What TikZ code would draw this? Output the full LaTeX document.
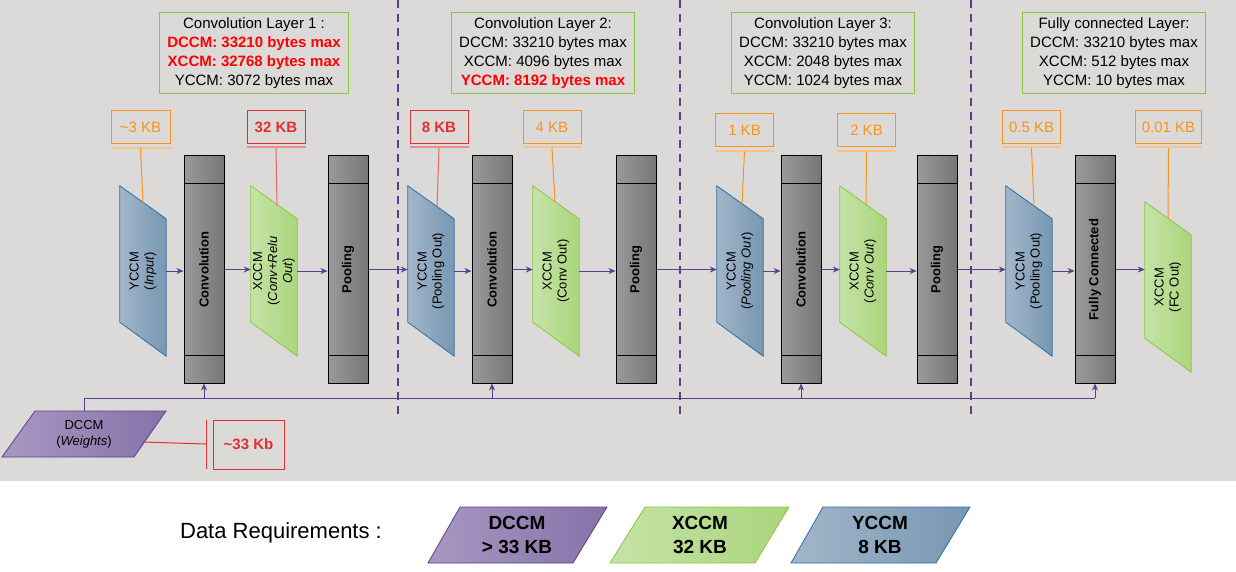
\documentclass[tikz,border=0pt]{standalone}
\usepackage{fontspec}
\setmainfont{Liberation Sans}
\usetikzlibrary{arrows.meta}
\definecolor{bg}{HTML}{DCDAD8}
\definecolor{pur}{HTML}{5B3F8C}
\definecolor{org}{HTML}{F7941D}
\definecolor{rd}{HTML}{E03030}
\definecolor{grb}{HTML}{8CC63F}
\definecolor{blb}{HTML}{2F6F9F}
\definecolor{yl}{HTML}{A2B6CA}
\definecolor{yr}{HTML}{7896B2}
\definecolor{xl}{HTML}{C6E3A8}
\definecolor{xr}{HTML}{A9D57B}
\definecolor{dl}{HTML}{A898C2}
\definecolor{dr}{HTML}{8672A8}
\definecolor{gl}{HTML}{9A9A9A}
\definecolor{gr}{HTML}{767676}
\tikzset{
 bar/.style={draw=black,line width=1pt,left color=gl,right color=gr,minimum width=40pt,minimum height=227pt,inner sep=0pt},
 trn/.style={minimum width=46pt,minimum height=170pt,inner sep=0pt},
 ytr/.style={draw=blb,line width=0.8pt,left color=yl,right color=yr},
 xtr/.style={draw=grb,line width=0.8pt,left color=xl,right color=xr},
 dtr/.style={draw=pur,line width=0.8pt,left color=dl,right color=dr},
 arr/.style={pur,line width=0.8pt,-{Stealth[length=7pt,width=6pt]}},
 wire/.style={pur,line width=0.8pt},
 div/.style={pur,line width=1.5pt,dash pattern=on 8pt off 6pt},
 title/.style={draw=grb,line width=0.8pt,align=center,font=\fontsize{15}{19}\selectfont,inner xsep=8pt,inner ysep=5pt},
 olab/.style={draw=org,text=org,line width=1pt,minimum height=33pt,font=\fontsize{15}{16}\selectfont},
 rlab/.style={draw=rd,text=rd,line width=1pt,minimum height=33pt,font=\bfseries\fontsize{15}{16}\selectfont},
 btxt/.style={rotate=90,font=\bfseries\fontsize{13}{14}\selectfont},
 ttxt/.style={rotate=90,align=center,font=\fontsize{13}{15}\selectfont},
}
\newcommand\mytrap[2]{\draw[#2] (#1.north west) -- ([yshift=-33pt]#1.north east) -- (#1.south east) -- ([yshift=34pt]#1.south west) -- cycle;}
\newcommand\mybands[1]{\draw[line width=1pt] ([yshift=-28pt]#1.north west) -- ([yshift=-28pt]#1.north east) ([yshift=28pt]#1.south west) -- ([yshift=28pt]#1.south east);}
\newcommand\ulab[2]{\draw[#2!55,line width=2pt] ([yshift=-3.5pt]#1.south west) -- ([yshift=-3.5pt]#1.south east);}
\begin{document}
\begin{tikzpicture}[x=1pt,y=-1pt]
\useasboundingbox (0,0) rectangle (1236,572);
\fill[bg] (0,0) rectangle (1236,481);
% dividers
\draw[div] (398,0) -- (398,415);
\draw[div] (680,0) -- (680,415);
\draw[div] (971,0) -- (971,415);
% titles
\node[title] (t1) at (254,53) {Convolution Layer 1 :\\\textcolor{red}{\bfseries DCCM: 33210 bytes max}\\\textcolor{red}{\bfseries XCCM: 32768 bytes max}\\YCCM: 3072 bytes max};
\node[title] (t2) at (543,53) {Convolution Layer 2:\\DCCM: 33210 bytes max\\XCCM: 4096 bytes max\\\textcolor{red}{\bfseries YCCM: 8192 bytes max}};
\node[title] (t3) at (823,53) {Convolution Layer 3:\\DCCM: 33210 bytes max\\XCCM: 2048 bytes max\\YCCM: 1024 bytes max};
\node[title] (t4) at (1114,53) {Fully connected Layer:\\DCCM: 33210 bytes max\\XCCM: 512 bytes max\\YCCM: 10 bytes max};
% trapezoids
\node[trn] (y1) at (143,271) {};
\node[trn] (x1) at (274,271) {};
\node[trn] (y2) at (431,271) {};
\node[trn] (x2) at (556,271) {};
\node[trn] (y3) at (740,271) {};
\node[trn] (x3) at (863,271) {};
\node[trn] (y4) at (1029,271) {};
\node[trn] (x4) at (1168,287) {};
\mytrap{y1}{ytr}\mytrap{y2}{ytr}\mytrap{y3}{ytr}\mytrap{y4}{ytr}
\mytrap{x1}{xtr}\mytrap{x2}{xtr}\mytrap{x3}{xtr}\mytrap{x4}{xtr}
\node[ttxt] at (y1) {YCCM\\(\textit{Input})};
\node[ttxt] at (x1) {XCCM\\(\textit{Conv+Relu}\\\textit{Out})};
\node[ttxt] at (y2) {YCCM\\(Pooling Out)};
\node[ttxt] at (x2) {XCCM\\(Conv Out)};
\node[ttxt] at (y3) {YCCM\\(\textit{Pooling Out})};
\node[ttxt] at (x3) {XCCM\\(\textit{Conv Out})};
\node[ttxt] at (y4) {YCCM\\(Pooling Out)};
\node[ttxt] at (x4) {XCCM\\(FC Out)};
% bars
\node[bar] (c1) at (204,269.5) {};
\node[bar] (p1) at (348,269.5) {};
\node[bar] (c2) at (492,269.5) {};
\node[bar] (p2) at (636,269.5) {};
\node[bar] (c3) at (801,269.5) {};
\node[bar] (p3) at (937,269.5) {};
\node[bar] (fc) at (1095,269.5) {};
\foreach \b in {c1,p1,c2,p2,c3,p3,fc} {\mybands{\b}}
\node[btxt] at (c1) {Convolution};
\node[btxt] at (p1) {Pooling};
\node[btxt] at (c2) {Convolution};
\node[btxt] at (p2) {Pooling};
\node[btxt] at (c3) {Convolution};
\node[btxt] at (p3) {Pooling};
\node[btxt] at (fc) {Fully Connected};
% flow arrows
\draw[arr] (y1.east) -- (c1.west |- y1.east);
\draw[arr] (c1.east) -- (x1.west |- c1.east);
\draw[arr] (x1.east) -- (p1.west |- x1.east);
\draw[arr] (p1.east) -- (y2.west |- p1.east);
\draw[arr] (y2.east) -- (c2.west |- y2.east);
\draw[arr] (c2.east) -- (x2.west |- c2.east);
\draw[arr] (x2.east) -- (p2.west |- x2.east);
\draw[arr] (p2.east) -- (y3.west |- p2.east);
\draw[arr] (y3.east) -- (c3.west |- y3.east);
\draw[arr] (c3.east) -- (x3.west |- c3.east);
\draw[arr] (x3.east) -- (p3.west |- x3.east);
\draw[arr] (p3.east) -- (y4.west |- p3.east);
\draw[arr] (y4.east) -- (fc.west |- y4.east);
\draw[arr] (fc.east) -- (x4.west |- fc.east);
% weights
\draw[dtr] (35,411) -- (166,411) -- (134,457) -- (2,457) -- cycle;
\node[minimum width=100pt,minimum height=46pt,align=center,font=\fontsize{13}{16}\selectfont] (w) at (84,434) {DCCM\\(\textit{Weights})};
\coordinate (wl) at (84,398);
\coordinate (wr) at (1095,398);
\draw[wire] (w.north) -- (wl) -- (wr);
\foreach \b in {c1,c2,c3,fc} {\draw[arr] (\b.south |- wl) -- (\b.south);}
\node[rlab,minimum width=71pt,minimum height=49pt] (k33) at (248.5,444.5) {\textasciitilde33 Kb};
\coordinate (wt) at (206,444);
\draw[rd,line width=1pt] (206,420) -- (206,469);
\draw[rd,line width=1pt] (143,442) -- (wt);
% size labels
\node[olab,minimum width=59pt] (l1) at (140.5,127.5) {\textasciitilde3 KB};
\node[rlab,minimum width=58pt] (l2) at (276,127) {32 KB};
\node[rlab,minimum width=58pt] (l3) at (439,127) {8 KB};
\node[olab,minimum width=58pt] (l4) at (552,127) {4 KB};
\node[olab,minimum width=58pt] (l5) at (744.5,130.5) {1 KB};
\node[olab,minimum width=58pt] (l6) at (866.5,130.5) {2 KB};
\node[olab,minimum width=58pt] (l7) at (1031.5,127) {0.5 KB};
\node[olab,minimum width=66pt] (l8) at (1168.5,127) {0.01 KB};
\ulab{l1}{org}\ulab{l2}{rd}\ulab{l3}{rd}\ulab{l4}{org}\ulab{l5}{org}\ulab{l6}{org}\ulab{l7}{org}\ulab{l8}{org}
\coordinate (e1) at (143,203); \coordinate (e2) at (277,205);
\coordinate (e3) at (437,207); \coordinate (e4) at (555,202);
\coordinate (e5) at (742,204); \coordinate (e6) at (866,205);
\coordinate (e7) at (1034,206); \coordinate (e8) at (1168,219);
\draw[org,line width=1pt] ([yshift=-4pt]l1.south) -- (e1);
\draw[rd!75,line width=1pt] ([yshift=-4pt]l2.south) -- (e2);
\draw[rd!75,line width=1pt] ([yshift=-4pt]l3.south) -- (e3);
\draw[org,line width=1pt] ([yshift=-4pt]l4.south) -- (e4);
\draw[org,line width=1pt] ([yshift=-4pt]l5.south) -- (e5);
\draw[org,line width=1pt] ([yshift=-4pt]l6.south) -- (e6);
\draw[org,line width=1pt] ([yshift=-4pt]l7.south) -- (e7);
\draw[org,line width=1pt] ([yshift=-4pt]l8.south) -- (e8);
% legend
\node[font=\fontsize{22}{26}\selectfont] (dreq) at (281,533) {Data Requirements :};
\draw[dtr] (460,507) -- (607,507) -- (573,563) -- (428,563) -- cycle;
\draw[xtr] (645,507) -- (789,507) -- (755,563) -- (610,563) -- cycle;
\draw[ytr] (823,507) -- (970,507) -- (936,563) -- (791,563) -- cycle;
\node[align=center,font=\bfseries\fontsize{19}{24}\selectfont] (ld) at (517,535) {DCCM\\> 33 KB};
\node[align=center,font=\bfseries\fontsize{19}{24}\selectfont] (lx) at (700,535) {XCCM\\32 KB};
\node[align=center,font=\bfseries\fontsize{19}{24}\selectfont] (ly) at (880,535) {YCCM\\8 KB};
\end{tikzpicture}
\end{document}
